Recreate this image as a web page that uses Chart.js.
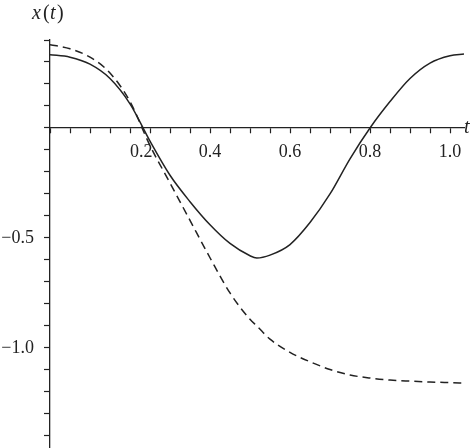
<!DOCTYPE html>
<html>
<head>
<meta charset="utf-8">
<script src="https://cdn.jsdelivr.net/npm/chart.js@4/dist/chart.umd.min.js"></script>
<style>
    body { margin: 0; background: #ffffff; }
    #wrap { width: 474px; height: 448px; }
</style>
</head>
<body>
<div id="wrap"><canvas id="xtChart" width="474" height="448"></canvas></div>
<script>
// tiempos
var tiempos = [0, 0.05, 0.1, 0.15, 0.2, 0.25, 0.3, 0.35, 0.4, 0.45, 0.5, 0.517, 0.55, 0.6, 0.65, 0.7, 0.75, 0.8, 0.85, 0.9, 0.95, 1.0, 1.035];

// curva continua
var solida = [0.333, 0.322, 0.290, 0.225, 0.11, -0.06, -0.215, -0.335, -0.44, -0.525, -0.581, -0.591, -0.578, -0.53, -0.43, -0.3, -0.14, 0.0, 0.12, 0.225, 0.295, 0.328, 0.336];

// curva punteada
var punteada = [0.379, 0.360, 0.322, 0.250, 0.12, -0.08, -0.25, -0.42, -0.59, -0.75, -0.87, -0.90, -0.96, -1.02, -1.063, -1.098, -1.123, -1.137, -1.146, -1.151, -1.155, -1.158, -1.16];

var etiquetasX = [0.2, 0.4, 0.6, 0.8, 1.0];
var etiquetasY = [-0.5, -1.0];

let chart;

function puntos(valores)
{
    return tiempos.map(function(t, i) { return { x: t, y: valores[i] }; });
}

function esEtiqueta(lista, v)
{
    for (var i = 0; i < lista.length; i++) {
        if (Math.abs(lista[i] - v) < 1e-6) return true;
    }
    return false;
}

// sin relleno extra de las escalas
function sinRelleno(s)
{
    s.paddingTop = 0;
    s.paddingBottom = 0;
    s.paddingLeft = 0;
    s.paddingRight = 0;
}

var fuente = { family: '"Liberation Serif", "DejaVu Serif", serif', size: 18 };
var tinta = '#222222';

// textos x(t) y t
var textos = {
    id: 'textos',
    afterDraw: function(c)
    {
        var ctx = c.ctx;
        ctx.save();
        ctx.fillStyle = tinta;
        ctx.textBaseline = 'alphabetic';
        ctx.font = 'italic 20px "Liberation Serif", serif';
        ctx.fillText('x', 32, 19);
        ctx.font = '20px "Liberation Serif", serif';
        ctx.fillText('(', 43, 19);
        ctx.font = 'italic 20px "Liberation Serif", serif';
        ctx.fillText('t', 50, 19);
        ctx.font = '20px "Liberation Serif", serif';
        ctx.fillText(')', 57, 19);
        ctx.font = 'italic 20px "Liberation Serif", serif';
        ctx.fillText('t', 464, 133);
        ctx.restore();
    }
};

function dibujar()
{
    const ctx = document.getElementById('xtChart').getContext('2d');

    chart = new Chart(ctx, {
        type: 'line',
        data: {
            datasets: [
                {
                    label: 'x(t)',
                    data: puntos(solida),
                    borderColor: tinta,
                    borderWidth: 1.5,
                    pointRadius: 0,
                    cubicInterpolationMode: 'monotone',
                    fill: false
                },
                {
                    label: 'x(t) punteada',
                    data: puntos(punteada),
                    borderColor: tinta,
                    borderWidth: 1.5,
                    borderDash: [8, 5],
                    pointRadius: 0,
                    cubicInterpolationMode: 'monotone',
                    fill: false
                }
            ]
        },
        options: {
            responsive: false,
            animation: false,
            layout: {
                autoPadding: false,
                padding: { left: 0, right: 10, top: 40, bottom: 0 }
            },
            plugins: {
                legend: { display: false },
                tooltip: { enabled: false }
            },
            scales: {
                x: {
                    type: 'linear',
                    position: { y: 0 },
                    min: 0,
                    max: 1.035,
                    afterFit: function(s) { s.height = 0; sinRelleno(s); },
                    grid: { drawOnChartArea: false, drawTicks: true, tickLength: 5, tickColor: tinta, tickWidth: 1.2 },
                    border: { display: true, color: tinta, width: 1.3 },
                    ticks: {
                        stepSize: 0.05,
                        includeBounds: false,
                        autoSkip: false,
                        maxTicksLimit: 100,
                        maxRotation: 0,
                        padding: 8,
                        color: tinta,
                        font: fuente,
                        callback: function(v) {
                            if (!esEtiqueta(etiquetasX, v)) return '';
                            // el 0.2 va corrido a la derecha como en la figura
                            return (Math.abs(v - 0.2) < 1e-6 ? '     ' : '') + v.toFixed(1);
                        }
                    }
                },
                y: {
                    type: 'linear',
                    position: 'left',
                    min: -1.455,
                    max: 0.4,
                    afterFit: function(s) { s.width = 50; sinRelleno(s); },
                    grid: { drawOnChartArea: false, drawTicks: true, tickLength: 6, tickColor: tinta, tickWidth: 1.2 },
                    border: { display: true, color: tinta, width: 1.3 },
                    ticks: {
                        stepSize: 0.1,
                        includeBounds: false,
                        autoSkip: false,
                        maxTicksLimit: 100,
                        padding: 10,
                        color: tinta,
                        font: fuente,
                        callback: function(v) {
                            return esEtiqueta(etiquetasY, v) ? '\u2212' + Math.abs(v).toFixed(1) : '';
                        }
                    }
                }
            }
        },
        plugins: [textos]
    });
}

dibujar();
</script>
</body>
</html>
